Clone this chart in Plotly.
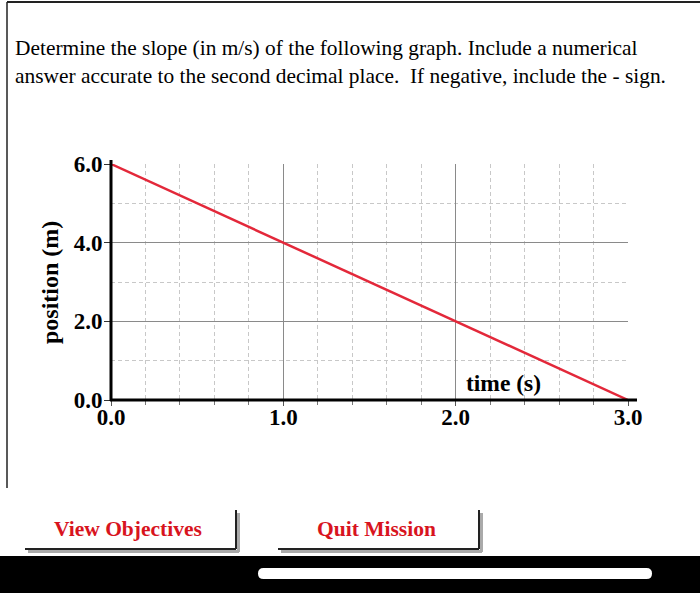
import plotly.graph_objects as go

# Data
time_s = [0.0, 1.0, 2.0, 3.0]
position_m = [6.0, 4.0, 2.0, 0.0]
x_ticks = [0.0, 1.0, 2.0, 3.0]
y_ticks = [0.0, 2.0, 4.0, 6.0]
question_lines = [
    "Determine the slope (in m/s) of the following graph. Include a numerical",
    "answer accurate to the second decimal place.  If negative, include the - sign.",
]
buttons = ["View Objectives", "Quit Mission"]

W, H = 700, 593
L, R, T, B = 111, 628, 164, 400


def px(x):
    return (x - L) / (R - L)


def py(y):
    return (B - y) / (B - T)


SERIF = "Liberation Serif, Times New Roman, serif"

fig = go.Figure()
fig.add_trace(go.Scatter(
    x=time_s, y=position_m, mode="lines",
    line=dict(color="#e3283a", width=2.5),
    hoverinfo="skip", showlegend=False,
))

fig.update_layout(
    width=W, height=H,
    margin=dict(l=L, r=W - R, t=T, b=H - B, pad=0),
    paper_bgcolor="white", plot_bgcolor="white",
    font=dict(family=SERIF, color="black"),
    showlegend=False,
    xaxis=dict(
        range=[0, 3], tickvals=x_ticks, ticktext=[f"{v:.1f}" for v in x_ticks],
        showgrid=True, gridcolor="#8a8a8a", gridwidth=1.3,
        zeroline=False, showline=False,
        ticks="outside", ticklen=5, tickcolor="#555", tickwidth=1,
        tickfont=dict(family=SERIF, size=23, color="black", weight="bold"),
        ticklabelstandoff=-9,
        minor=dict(dtick=0.2, showgrid=True, griddash="4px,3px", gridcolor="#c8c8c8",
                   gridwidth=1, ticks="outside", ticklen=4, tickcolor="#777"),
        fixedrange=True,
    ),
    yaxis=dict(
        range=[0, 6], tickvals=y_ticks, ticktext=[f"{v:.1f}" for v in y_ticks],
        showgrid=True, gridcolor="#8a8a8a", gridwidth=1.3,
        zeroline=False, showline=False,
        ticks="outside", ticklen=6, tickcolor="#333", tickwidth=1.2,
        tickfont=dict(family=SERIF, size=23, color="black", weight="bold"),
        ticklabelstandoff=-3,
        minor=dict(dtick=1, showgrid=True, griddash="4px,3px", gridcolor="#c8c8c8",
                   gridwidth=1, ticks=""),
        fixedrange=True,
    ),
)

shapes = []
# axis lines
shapes.append(dict(type="line", xref="paper", yref="paper", x0=px(111), x1=px(111),
                   y0=py(160), y1=py(401), line=dict(color="black", width=3), layer="above"))
shapes.append(dict(type="line", xref="paper", yref="paper", x0=px(110), x1=px(637),
                   y0=py(400), y1=py(400), line=dict(color="black", width=3), layer="above"))
# page border
shapes.append(dict(type="line", xref="paper", yref="paper", x0=px(7), x1=px(700),
                   y0=py(2), y1=py(2), line=dict(color="#222", width=2)))
shapes.append(dict(type="line", xref="paper", yref="paper", x0=px(7), x1=px(7),
                   y0=py(2), y1=py(488), line=dict(color="#222", width=1.5)))

# buttons
btn_boxes = [(25, 236, 510, 549), (278, 479, 510, 549)]
for (bx0, bx1, by0, by1) in btn_boxes:
    # gray shadow
    shapes.append(dict(type="line", xref="paper", yref="paper", x0=px(bx0 + 3), x1=px(bx1 + 3),
                       y0=py(by1 + 2.5), y1=py(by1 + 2.5), line=dict(color="#aaaaaa", width=3)))
    shapes.append(dict(type="line", xref="paper", yref="paper", x0=px(bx1 + 2.5), x1=px(bx1 + 2.5),
                       y0=py(by0 + 3), y1=py(by1 + 3), line=dict(color="#aaaaaa", width=3)))
    # dark edges
    shapes.append(dict(type="line", xref="paper", yref="paper", x0=px(bx0), x1=px(bx1),
                       y0=py(by1), y1=py(by1), line=dict(color="#222", width=2)))
    shapes.append(dict(type="line", xref="paper", yref="paper", x0=px(bx1), x1=px(bx1),
                       y0=py(by0), y1=py(by1), line=dict(color="#222", width=2)))

# bottom black bar
shapes.append(dict(type="rect", xref="paper", yref="paper", x0=px(0), x1=px(700),
                   y0=py(556), y1=py(594), fillcolor="black", line=dict(width=0)))
# white pill
pl, pr, pt, pb = 258, 652, 568, 579
r = (pb - pt) / 2
path = (f"M {px(pl + r)},{py(pt)} L {px(pr - r)},{py(pt)} "
        f"Q {px(pr)},{py(pt)} {px(pr)},{py(pt + r)} "
        f"Q {px(pr)},{py(pb)} {px(pr - r)},{py(pb)} "
        f"L {px(pl + r)},{py(pb)} "
        f"Q {px(pl)},{py(pb)} {px(pl)},{py(pt + r)} "
        f"Q {px(pl)},{py(pt)} {px(pl + r)},{py(pt)} Z")
shapes.append(dict(type="path", xref="paper", yref="paper", path=path,
                   fillcolor="white", line=dict(width=0)))
fig.update_layout(shapes=shapes)

ann = []
for i, line in enumerate(question_lines):
    ann.append(dict(text=line, xref="paper", yref="paper", x=px(13), y=py(48 + 28 * i),
                    xanchor="left", yanchor="middle", showarrow=False,
                    font=dict(family=SERIF, size=21.4, color="black")))
ann.append(dict(text="position (m)", xref="paper", yref="paper", x=px(50), y=py(283),
                textangle=-90, xanchor="center", yanchor="middle", showarrow=False,
                font=dict(family=SERIF, size=24, color="black", weight="bold")))
ann.append(dict(text="time (s)", xref="paper", yref="paper", x=px(503), y=py(383),
                xanchor="center", yanchor="middle", showarrow=False,
                font=dict(family=SERIF, size=23.5, color="black", weight="bold")))
for txt, cx in zip(buttons, [128, 376]):
    ann.append(dict(text=txt, xref="paper", yref="paper", x=px(cx), y=py(529),
                    xanchor="center", yanchor="middle", showarrow=False,
                    font=dict(family=SERIF, size=21.5, color="#d8141e", weight="bold")))
fig.update_layout(annotations=ann)

fig.write_html("out.html", config={"displayModeBar": False},
               post_script="document.body.style.margin='0';")
